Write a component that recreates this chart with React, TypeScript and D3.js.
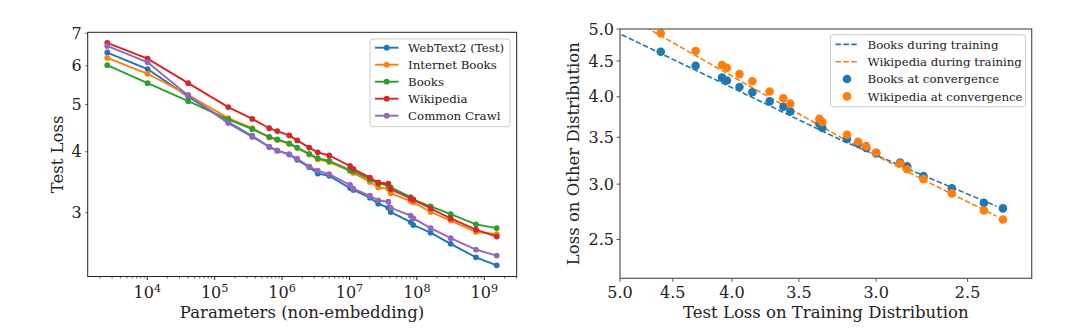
import React from "react";
import * as d3 from "d3";

// ---------- Left panel data ----------
const params = [2.55e3, 1.01e4, 4.05e4, 1.59e5, 3.61e5, 6.46e5, 8.49e5, 1.28e6, 1.68e6, 2.53e6, 3.38e6, 5.01e6, 1.02e7, 1.14e7, 2.01e7, 2.67e7, 3.77e7, 4.09e7, 8.09e7, 8.85e7, 1.6e8, 3.17e8, 7.53e8, 1.53e9];
const webtext2 = [6.39, 5.91, 5.19, 4.6, 4.31, 4.09, 4.02, 3.95, 3.85, 3.72, 3.61, 3.57, 3.37, 3.34, 3.22, 3.13, 3.07, 3.01, 2.87, 2.83, 2.73, 2.59, 2.43, 2.34];
const internetBooks = [6.23, 5.78, 5.23, 4.69, 4.47, 4.28, 4.23, 4.15, 4.07, 3.95, 3.86, 3.81, 3.65, 3.62, 3.47, 3.38, 3.36, 3.29, 3.17, 3.15, 3.01, 2.89, 2.74, 2.71];
const books = [6.02, 5.53, 5.08, 4.66, 4.45, 4.29, 4.24, 4.16, 4.08, 3.96, 3.88, 3.83, 3.67, 3.65, 3.51, 3.44, 3.41, 3.38, 3.23, 3.19, 3.09, 2.98, 2.84, 2.79];
const wikipedia = [6.69, 6.21, 5.53, 4.94, 4.67, 4.47, 4.41, 4.32, 4.22, 4.08, 3.99, 3.93, 3.74, 3.69, 3.54, 3.46, 3.44, 3.35, 3.21, 3.19, 3.06, 2.92, 2.77, 2.68];
const commonCrawl = [6.59, 6.1, 5.22, 4.58, 4.29, 4.1, 4.02, 3.95, 3.87, 3.73, 3.66, 3.6, 3.42, 3.36, 3.25, 3.18, 3.16, 3.07, 2.96, 2.92, 2.79, 2.66, 2.52, 2.45];
const leftSeriesNames = ["WebText2 (Test)", "Internet Books", "Books", "Wikipedia", "Common Crawl"];
const leftSeriesValues = [webtext2, internetBooks, books, wikipedia, commonCrawl];
const leftColors = ["#1f77b4", "#ff7f0e", "#2ca02c", "#d62728", "#9467bd"];
const leftXTickExps = [4, 5, 6, 7, 8, 9];
const leftYTicks = [3, 4, 5, 6, 7];

// ---------- Right panel data ----------
const trainLoss = [4.61, 4.3, 4.08, 4.04, 3.94, 3.84, 3.71, 3.61, 3.56, 3.36, 3.34, 3.18, 3.11, 3.06, 3.0, 2.86, 2.82, 2.73, 2.58, 2.42, 2.33];
const booksConv = [4.64, 4.43, 4.26, 4.22, 4.13, 4.06, 3.94, 3.87, 3.81, 3.66, 3.61, 3.48, 3.43, 3.38, 3.32, 3.22, 3.18, 3.08, 2.96, 2.82, 2.77];
const wikiConv = [4.93, 4.65, 4.44, 4.4, 4.31, 4.21, 4.07, 3.98, 3.91, 3.72, 3.68, 3.53, 3.45, 3.4, 3.33, 3.21, 3.15, 3.05, 2.91, 2.75, 2.67];
const booksTrainX = [5.2, 5.0, 4.01, 3.22, 2.76, 2.36];
const booksTrainY = [5.08, 4.92, 4.13, 3.47, 3.11, 2.79];
const wikiTrainX = [4.75, 3.9, 3.22, 2.76, 2.36];
const wikiTrainY = [5.03, 4.18, 3.5, 3.07, 2.7];
const rightTicks = [5.0, 4.5, 4.0, 3.5, 3.0, 2.5];
const rightLegend = ["Books during training", "Wikipedia during training", "Books at convergence", "Wikipedia at convergence"];

const BLUE = "#1f77b4";
const ORANGE = "#ff7f0e";
const FONT = "DejaVu Serif";
const TICK_FS = 16;
const LABEL_FS = 16.5;
const LEGEND_FS = 11.8;

export default function App() {
  // Left scales
  const L = { left: 87.7, right: 516.7, top: 32.3, bottom: 276.5 };
  const lx = d3.scaleLog().domain([Math.pow(10, 3.116), Math.pow(10, 9.481)]).range([L.left, L.right]);
  const ly = d3.scaleLog().domain([2.22, 7.03]).range([L.bottom, L.top]);
  const lline = d3.line<[number, number]>().x((d) => lx(d[0])).y((d) => ly(d[1]));

  // minor ticks
  const minor: number[] = [];
  for (let e = 3; e <= 9; e++) {
    for (let m = 2; m <= 9; m++) {
      const v = m * Math.pow(10, e);
      if (v > lx.domain()[0] && v < lx.domain()[1]) minor.push(v);
    }
  }

  // Right scales
  const R = { left: 620, right: 1031.7, top: 29, bottom: 278.3 };
  const rx = d3.scaleLog().domain([5.0, 2.2]).range([R.left, R.right]);
  const ry = d3.scaleLog().domain([2.2, 5.0]).range([R.bottom, R.top]);
  const rline = d3.line<[number, number]>().x((d) => rx(d[0])).y((d) => ry(d[1]));

  const legL = { x: 370, y: 39, w: 140, h: 87.7 };
  const legLRows = [47.7, 64.7, 81.7, 98.7, 115.7];
  const legR = { x: 830.5, y: 34.7, w: 195, h: 72.1 };
  const legRRows = [44.4, 61.7, 79, 96.4];

  return (
    <svg width={1070} height={334} style={{ position: "absolute", left: 0, top: 0, background: "#fff" }} fontFamily={FONT}>
      <defs>
        <clipPath id="clipL">
          <rect x={L.left} y={L.top} width={L.right - L.left} height={L.bottom - L.top} />
        </clipPath>
        <clipPath id="clipR">
          <rect x={R.left} y={R.top} width={R.right - R.left} height={R.bottom - R.top} />
        </clipPath>
      </defs>
      <rect width={1070} height={334} fill="#fff" />

      {/* ---------- Left panel ---------- */}
      <g clipPath="url(#clipL)">
        {leftSeriesValues.map((vals, i) => (
          <g key={i}>
            <path d={lline(params.map((p, j) => [p, vals[j]]) as [number, number][]) || ""} fill="none" stroke={leftColors[i]} strokeWidth={1.9} />
            {params.map((p, j) => (
              <circle key={j} cx={lx(p)} cy={ly(vals[j])} r={2.9} fill={leftColors[i]} />
            ))}
          </g>
        ))}
      </g>
      <rect x={L.left} y={L.top} width={L.right - L.left} height={L.bottom - L.top} fill="none" stroke="#222" strokeWidth={1} />
      {leftXTickExps.map((e) => {
        const x = lx(Math.pow(10, e));
        return (
          <g key={e}>
            <line x1={x} x2={x} y1={L.bottom} y2={L.bottom + 3.5} stroke="#222" />
            <text x={x} y={298} textAnchor="middle" fontSize={TICK_FS} fill="#222">
              10<tspan dy={-6.5} fontSize={TICK_FS * 0.7}>{e}</tspan>
            </text>
          </g>
        );
      })}
      {minor.map((v, i) => (
        <line key={i} x1={lx(v)} x2={lx(v)} y1={L.bottom} y2={L.bottom + 2} stroke="#222" strokeWidth={0.7} />
      ))}
      {leftYTicks.map((t) => (
        <g key={t}>
          <line x1={L.left - 2.5} x2={L.left} y1={ly(t)} y2={ly(t)} stroke="#222" strokeWidth={0.7} />
          <text x={L.left - 6} y={ly(t)} dy="0.35em" textAnchor="end" fontSize={TICK_FS} fill="#222">{t}</text>
        </g>
      ))}
      <text x={302} y={318} textAnchor="middle" fontSize={LABEL_FS} fill="#222">Parameters (non-embedding)</text>
      <text transform={`translate(57,${(L.top + L.bottom) / 2}) rotate(-90)`} textAnchor="middle" dy="0.35em" fontSize={LABEL_FS} fill="#222">Test Loss</text>

      {/* left legend */}
      <rect x={legL.x} y={legL.y} width={legL.w} height={legL.h} rx={2.5} fill="#fff" fillOpacity={0.8} stroke="#ccc" strokeWidth={1} />
      {leftSeriesNames.map((n, i) => (
        <g key={n}>
          <line x1={375} x2={398.5} y1={legLRows[i]} y2={legLRows[i]} stroke={leftColors[i]} strokeWidth={1.9} />
          <circle cx={386.7} cy={legLRows[i]} r={2.9} fill={leftColors[i]} />
          <text x={408} y={legLRows[i]} dy="0.35em" fontSize={LEGEND_FS} fill="#222">{n}</text>
        </g>
      ))}

      {/* ---------- Right panel ---------- */}
      <g clipPath="url(#clipR)">
        <path d={rline(booksTrainX.map((x, i) => [x, booksTrainY[i]]) as [number, number][]) || ""} fill="none" stroke={BLUE} strokeWidth={1.6} strokeDasharray="5.5,2.4" />
        <path d={rline(wikiTrainX.map((x, i) => [x, wikiTrainY[i]]) as [number, number][]) || ""} fill="none" stroke={ORANGE} strokeWidth={1.6} strokeDasharray="5.5,2.4" />
      </g>
      {trainLoss.map((x, i) => (
        <circle key={"b" + i} cx={rx(x)} cy={ry(booksConv[i])} r={4.3} fill={BLUE} />
      ))}
      {trainLoss.map((x, i) => (
        <circle key={"w" + i} cx={rx(x)} cy={ry(wikiConv[i])} r={4.3} fill={ORANGE} />
      ))}
      <rect x={R.left} y={R.top} width={R.right - R.left} height={R.bottom - R.top} fill="none" stroke="#555" strokeWidth={1.2} />
      {rightTicks.map((t) => (
        <g key={"x" + t}>
          <line x1={rx(t)} x2={rx(t)} y1={R.bottom} y2={R.bottom + 3.5} stroke="#555" />
          <text x={rx(t)} y={298} textAnchor="middle" fontSize={TICK_FS} fill="#222">{t.toFixed(1)}</text>
        </g>
      ))}
      {rightTicks.map((t) => (
        <g key={"y" + t}>
          <line x1={R.left - 3.5} x2={R.left} y1={ry(t)} y2={ry(t)} stroke="#555" />
          <text x={R.left - 6} y={ry(t)} dy="0.35em" textAnchor="end" fontSize={TICK_FS} fill="#222">{t.toFixed(1)}</text>
        </g>
      ))}
      <text x={(R.left + R.right) / 2} y={318} textAnchor="middle" fontSize={LABEL_FS} fill="#222">Test Loss on Training Distribution</text>
      <text transform={`translate(573,${(R.top + R.bottom) / 2}) rotate(-90)`} textAnchor="middle" dy="0.35em" fontSize={LABEL_FS} fill="#222">Loss on Other Distribution</text>

      {/* right legend */}
      <rect x={legR.x} y={legR.y} width={legR.w} height={legR.h} rx={2.5} fill="#fff" fillOpacity={0.8} stroke="#ccc" strokeWidth={1} />
      {rightLegend.map((n, i) => (
        <g key={n}>
          {i < 2 ? (
            <line x1={835.5} x2={858.5} y1={legRRows[i]} y2={legRRows[i]} stroke={i === 0 ? BLUE : ORANGE} strokeWidth={1.6} strokeDasharray="5.5,2.4" />
          ) : (
            <circle cx={847} cy={legRRows[i]} r={4.3} fill={i === 2 ? BLUE : ORANGE} />
          )}
          <text x={867.5} y={legRRows[i]} dy="0.35em" fontSize={LEGEND_FS} fill="#222">{n}</text>
        </g>
      ))}
    </svg>
  );
}
